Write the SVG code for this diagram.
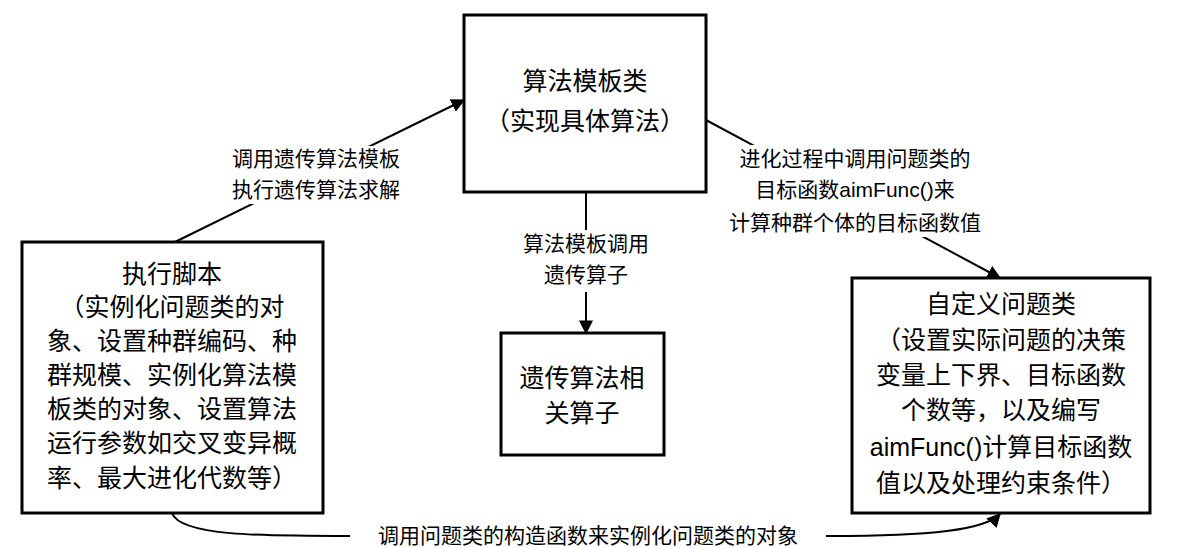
<svg xmlns="http://www.w3.org/2000/svg" width="1187" height="548" viewBox="0 0 1187 548">
<style>
.box{fill:#fff;stroke:#000;stroke-width:3}
.t{font-family:"Liberation Sans","Noto Sans CJK SC",sans-serif;font-size:25px;text-anchor:middle;fill:#000}
.l{font-family:"Liberation Sans","Noto Sans CJK SC",sans-serif;font-size:21px;text-anchor:middle;fill:#000}
.c{fill:none;stroke:#000;stroke-width:2}
</style>
<defs><marker id="b" viewBox="0 0 10 10" refX="9" refY="5" markerWidth="14" markerHeight="14" markerUnits="userSpaceOnUse" orient="auto"><path d="M0,0L10,5L0,10z"/></marker></defs>
<rect width="1187" height="548" fill="#fff"/>
<g id="connectors">
<path class="c" d="M175,242L464,100" marker-end="url(#b)"/>
<path class="c" d="M706,120L1000,278" marker-end="url(#b)"/>
<path class="c" d="M586,192L586,333" marker-end="url(#b)"/>
<path class="c" d="M172,513C180,536 260,536 350,536L830,536C930,536 985,530 1000,514" marker-end="url(#b)"/>
<rect x="222" y="146" width="190" height="58" fill="#fff"/>
<text class="l" x="316" y="166">调用遗传算法模板</text>
<text class="l" x="316" y="197">执行遗传算法求解</text>
<rect x="712" y="145" width="290" height="92" fill="#fff"/>
<text class="l" x="855" y="166">进化过程中调用问题类的</text>
<text class="l" x="855" y="197">目标函数aimFunc()来</text>
<text class="l" x="855" y="230">计算种群个体的目标函数值</text>
<rect x="512" y="230" width="148" height="62" fill="#fff"/>
<text class="l" x="586" y="251">算法模板调用</text>
<text class="l" x="586" y="282">遗传算子</text>
<rect x="350" y="525" width="476" height="23" fill="#fff"/>
<text class="l" x="588" y="543">调用问题类的构造函数来实例化问题类的对象</text>
</g>
<g id="top"><rect class="box" x="464" y="15" width="242" height="177"/>
<text class="t" x="585" y="90">算法模板类</text><text class="t" x="585" y="130">（实现具体算法）</text></g>
<g id="left"><rect class="box" x="22" y="242" width="301" height="271"/>
<text class="t" x="172" y="283">执行脚本</text>
<text class="t" x="172" y="316">（实例化问题类的对</text>
<text class="t" x="172" y="350">象、设置种群编码、种</text>
<text class="t" x="172" y="384">群规模、实例化算法模</text>
<text class="t" x="172" y="418">板类的对象、设置算法</text>
<text class="t" x="172" y="452">运行参数如交叉变异概</text>
<text class="t" x="172" y="487">率、最大进化代数等）</text></g>
<g id="mid"><rect class="box" x="501" y="333" width="163" height="122"/>
<text class="t" x="582" y="387">遗传算法相</text><text class="t" x="582" y="422">关算子</text></g>
<g id="right"><rect class="box" x="852" y="278" width="298" height="235"/>
<text class="t" x="1001" y="313">自定义问题类</text>
<text class="t" x="1001" y="349">（设置实际问题的决策</text>
<text class="t" x="1001" y="384">变量上下界、目标函数</text>
<text class="t" x="1001" y="419">个数等，以及编写</text>
<text class="t" x="1001" y="456">aimFunc()计算目标函数</text>
<text class="t" x="1001" y="492">值以及处理约束条件）</text></g>
</svg>
